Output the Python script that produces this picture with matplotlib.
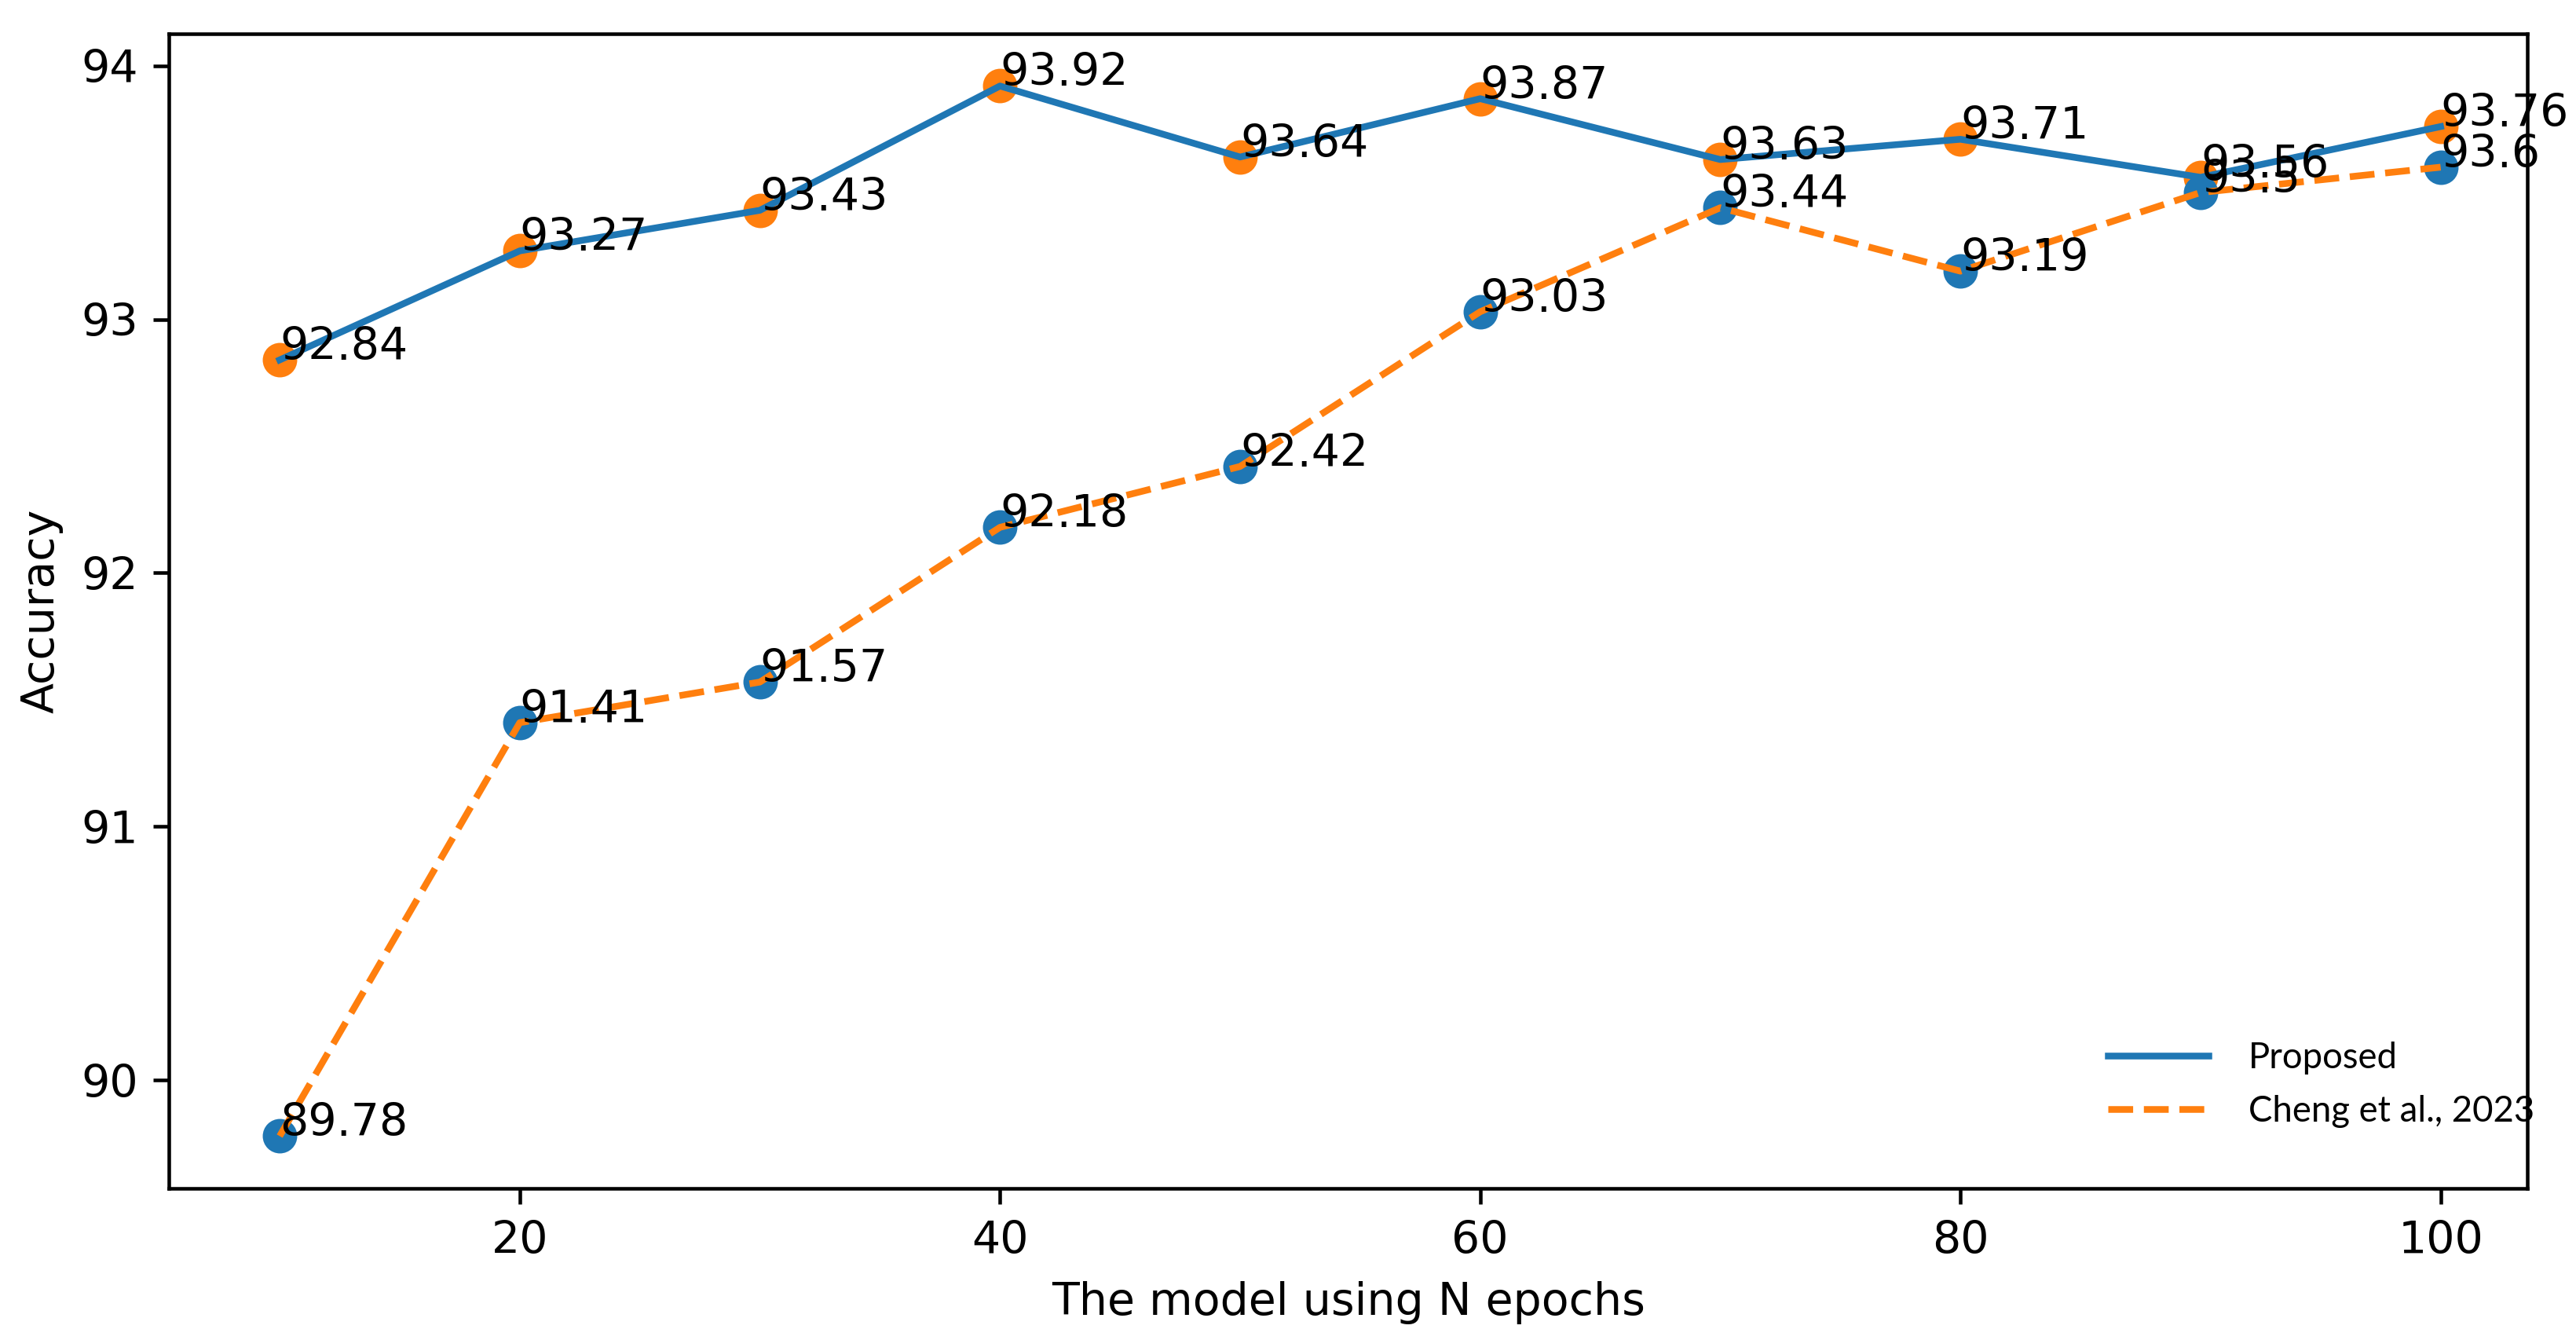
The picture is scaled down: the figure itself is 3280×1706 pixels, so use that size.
import matplotlib
matplotlib.use('Agg')
import matplotlib.pyplot as plt

# accuracy per number of training epochs
epochs   = [10, 20, 30, 40, 50, 60, 70, 80, 90, 100]
proposed = [92.84, 93.27, 93.43, 93.92, 93.64, 93.87, 93.63, 93.71, 93.56, 93.76]
cheng    = [89.78, 91.41, 91.57, 92.18, 92.42, 93.03, 93.44, 93.19, 93.5, 93.6]

fig, ax = plt.subplots(figsize=(8, 4.161), dpi=410)
fig.subplots_adjust(left=0.0657, right=0.981, top=0.975, bottom=0.113)

# markers first (colours swapped as in the original), lines on top
ax.scatter(epochs, proposed, color='C1', s=45)
ax.scatter(epochs, cheng, color='C0', s=45)
ax.plot(epochs, proposed, '-', color='C0', label='Proposed')
ax.plot(epochs, cheng, '--', color='C1', label='Cheng et al., 2023')

for x, y in zip(epochs, proposed):
    ax.text(x, y, str(y))
for x, y in zip(epochs, cheng):
    ax.text(x, y, str(y))

ax.set_xlabel('The model using N epochs')
ax.set_ylabel('Accuracy')
ax.set_xlim(5.4, 103.6)
ax.set_yticks([90, 91, 92, 93, 94])
ax.set_xticks([20, 40, 60, 80, 100])

ax.legend(loc='center left', bbox_to_anchor=(0.816, 0.09), frameon=False,
          borderaxespad=0, prop={'family': 'Lato', 'size': 8},
          handlelength=2.83, handletextpad=1.1, labelspacing=0.58)

fig.savefig('out.png', dpi=410)
